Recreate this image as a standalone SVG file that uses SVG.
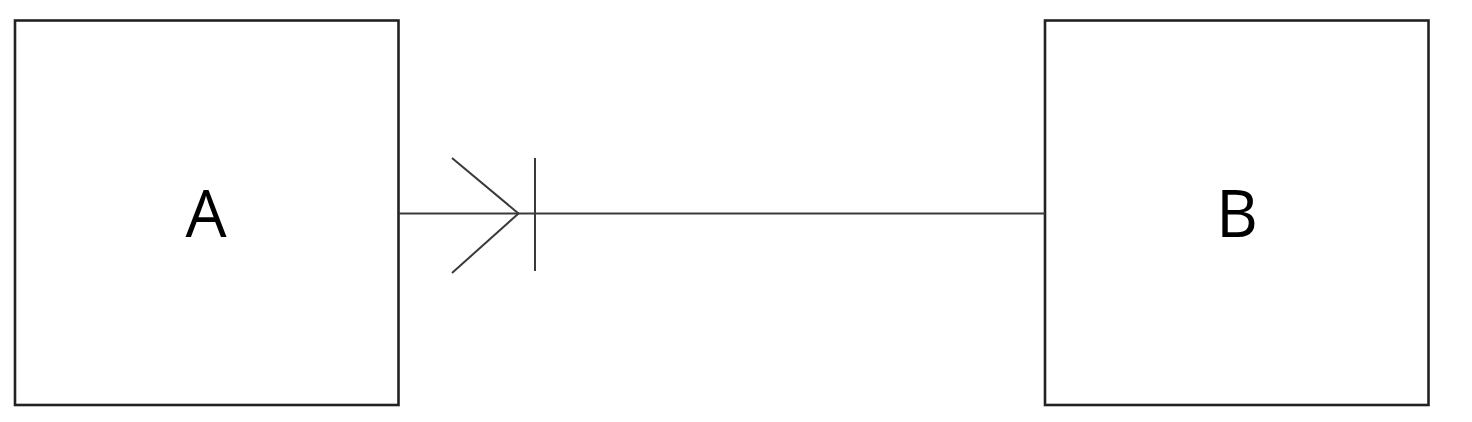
<svg xmlns="http://www.w3.org/2000/svg" width="1472" height="422" viewBox="0 0 1472 422">
  <style>
    .box { fill: #ffffff; stroke: #222222; stroke-width: 2.6; }
    .lbl { font-family: "Open Sans", "Noto Sans", sans-serif; font-size: 65px; fill: #000000; text-anchor: middle; }
    .conn { stroke: #3a3a3a; stroke-width: 2; fill: none; }
  </style>
  <rect width="1472" height="422" fill="#ffffff"/>
  <g id="nodeA">
    <rect class="box" x="15" y="20.5" width="383.5" height="384.5"/>
    <text class="lbl" x="206" y="237">A</text>
  </g>
  <g id="nodeB">
    <rect class="box" x="1045" y="20.5" width="383.5" height="384.5"/>
    <text class="lbl" x="1237" y="237">B</text>
  </g>
  <g id="connectors">
    <line class="conn" x1="399" y1="213.5" x2="1045" y2="213.5"/>
    <polyline class="conn" points="452,158 518.5,213.5 452,273"/>
    <line class="conn" x1="535" y1="158" x2="535" y2="271"/>
  </g>
</svg>
